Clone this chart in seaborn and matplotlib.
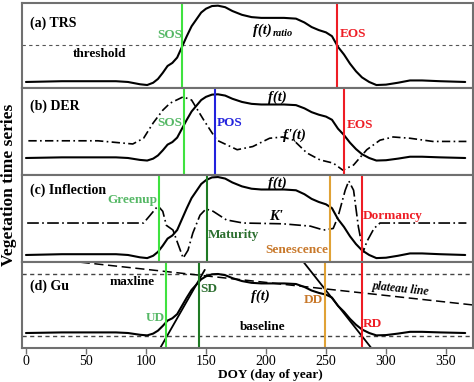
import matplotlib
matplotlib.use("Agg")
import matplotlib.pyplot as plt
import seaborn as sns

# normalised vegetation curve f(t), shared by all four panels
DOY = [0, 15, 30, 45, 60, 75, 85, 95, 101, 106, 110, 114, 118, 122, 126, 130,
       134, 138, 142, 146, 150, 155, 160, 166, 172, 180, 188, 196, 205, 215,
       225, 232, 238, 244, 250, 255, 260, 265, 270, 275, 280, 286, 292, 300,
       310, 320, 330, 345, 366]
F_T = [0.0, 0.005, 0.01, 0.01, 0.01, 0.01, 0.0, -0.03, -0.04, -0.01, 0.04,
       0.12, 0.21, 0.25, 0.32, 0.46, 0.6, 0.73, 0.82, 0.91, 0.96, 0.995, 1.0,
       0.98, 0.93, 0.88, 0.85, 0.84, 0.84, 0.84, 0.83, 0.78, 0.72, 0.68, 0.65,
       0.6, 0.46, 0.36, 0.24, 0.14, 0.06, 0.0, -0.04, -0.035, -0.01, 0.02,
       0.02, 0.01, 0.0]

# first derivative f'(t) for panel (b)
DER_DOY = [2, 60, 89, 98, 106, 114, 120, 131, 138, 148, 159, 176, 189, 203,
           214, 223, 234, 245, 256, 264, 273, 284, 295, 306, 320, 339, 367]
DER_VAL = [0.27, 0.27, 0.22, 0.31, 0.55, 0.75, 0.86, 0.96, 0.91, 0.6, 0.28,
           0.13, 0.18, 0.31, 0.33, 0.28, 0.08, -0.03, -0.08, -0.19, -0.11,
           0.13, 0.28, 0.33, 0.31, 0.26, 0.26]

# rate of change of curvature K' for panel (c)
K_DOY = [1, 98, 103.5, 110, 114, 117, 122.5, 126, 131, 135, 139, 145, 150,
         156, 167, 181, 214, 237, 248, 256, 260, 266, 269, 273, 277, 281, 284,
         290, 295, 367]
K_VAL = [0.41, 0.41, 0.51, 0.63, 0.56, 0.38, 0.32, 0.17, -0.04, 0.06, 0.28,
         0.51, 0.59, 0.56, 0.45, 0.41, 0.4, 0.37, 0.32, 0.34, 0.49, 0.83, 0.95,
         0.83, 0.36, 0.04, 0.17, 0.34, 0.41, 0.41]

# Gu method helper lines for panel (d)
PLATEAU_DOY = [0, 372.5]
PLATEAU_VAL = [1.30, 0.475]
GREENUP_DOY = [111.7, 149]
GREENUP_VAL = [-0.26, 1.07]
SENES_DOY = [231, 288]
SENES_VAL = [1.21, -0.26]

THRESHOLD = 0.485
MAXLINE = 1.0
BASELINE = -0.046

# phenology dates (DOY)
TRS_DATES = {"SOS": 130, "EOS": 259}
DER_DATES = {"SOS": 131.5, "POS": 157.5, "EOS": 265}
INF_DATES = {"Greenup": 111, "Maturity": 150.5, "Senescence": 253,
             "Dormancy": 280}
GU_DATES = {"UD": 117, "SD": 144, "DD": 249, "RD": 280}

XTICKS = [0, 50, 100, 150, 200, 250, 300, 350]
PANEL_YLIM = [(-0.079, 1.035), (-0.267, 1.099), (-0.09, 1.026), (-0.254, 1.203)]

LGREEN = "#3fe23f"
DGREEN = "#1f7a24"
ORANGE = "#e0a236"
RED = "#ee1d25"
BLUE = "#2222dd"
T_LGREEN = "#56b866"
T_DGREEN = "#2b6e2f"
T_ORANGE = "#c8782a"

sns.set_theme(style="white")
plt.rcParams["font.family"] = ["Liberation Serif", "DejaVu Serif"]

W, H = 474, 382
fig = plt.figure(figsize=(W / 100, H / 100), dpi=100)

tops = [3, 88, 175, 262]
bottom_px = 348
axes = []
for i, top in enumerate(tops):
    bot = tops[i + 1] if i < 3 else bottom_px
    ax = fig.add_axes([22 / W, 1 - bot / H, 451 / W, (bot - top) / H])
    ax.set_xlim(-3.3, 372.5)
    ax.set_ylim(*PANEL_YLIM[i])
    ax.set_yticks([])
    for sp in ax.spines.values():
        sp.set_color("#707070")
        sp.set_linewidth(1.5)
    if i < 3:
        ax.set_xticks([])
    axes.append(ax)


def put(xpx, ypx, s, color="black", size=9.5, ha="center", style="normal",
        weight="bold", **kw):
    fig.text(xpx / W, 1 - ypx / H, s, color=color, fontsize=size, ha=ha,
             va="center", fontstyle=style, fontweight=weight, **kw)


def curve(ax, x, y, **kw):
    sns.lineplot(x=x, y=y, ax=ax, estimator=None, sort=False, **kw)


dashdot = (0, (5, 2, 1, 2))

# (a) TRS
ax = axes[0]
ax.axhline(THRESHOLD, color="#555555", lw=0.8, ls=(0, (3, 3)))
curve(ax, DOY, F_T, color="black", lw=1.5)
ax.axvline(TRS_DATES["SOS"], color=LGREEN, lw=1.5)
ax.axvline(TRS_DATES["EOS"], color=RED, lw=1.5)
put(30, 23, "(a) TRS", ha="left", size=10)
put(182, 35, "SOS", color=T_LGREEN, ha="right")
put(73, 54, "threshold", ha="left")
put(262, 30, "f(t)", style="italic", size=10.5)
put(273, 34, "ratio", style="italic", size=7.5, ha="left")
put(340, 34, "EOS", color=RED, ha="left")

# (b) DER
ax = axes[1]
curve(ax, DER_DOY, DER_VAL, color="black", lw=1.2, linestyle=dashdot)
curve(ax, DOY, F_T, color="black", lw=1.5)
ax.axvline(DER_DATES["SOS"], color=LGREEN, lw=1.5)
ax.axvline(DER_DATES["POS"], color=BLUE, lw=1.5)
ax.axvline(DER_DATES["EOS"], color=RED, lw=1.5)
put(30, 106, "(b) DER", ha="left", size=10)
put(277, 97, "f(t)", style="italic", size=10.5)
put(182, 123, "SOS", color=T_LGREEN, ha="right")
put(217, 123, "POS", color=BLUE, ha="left")
put(294, 135, "f'(t)", style="italic", size=10.5)
put(347, 125, "EOS", color=RED, ha="left")

# (c) Inflection
ax = axes[2]
curve(ax, K_DOY, K_VAL, color="black", lw=1.2, linestyle=(0, (7, 2, 1, 2)))
curve(ax, DOY, F_T, color="black", lw=1.5)
ax.axvline(INF_DATES["Greenup"], color=LGREEN, lw=1.5)
ax.axvline(INF_DATES["Maturity"], color=DGREEN, lw=1.5)
ax.axvline(INF_DATES["Senescence"], color=ORANGE, lw=1.5)
ax.axvline(INF_DATES["Dormancy"], color=RED, lw=1.5)
put(30, 190, "(c) Inflection", ha="left", size=10)
put(277, 183, "f(t)", style="italic", size=10.5)
put(157, 200, "Greenup", color=T_LGREEN, ha="right")
put(276, 217, "K'", style="italic", size=10.5)
put(208, 235, "Maturity", color=T_DGREEN, ha="left")
put(328, 250, "Senescence", color=T_ORANGE, ha="right")
put(363, 216, "Dormancy", color=RED, ha="left")

# (d) Gu
ax = axes[3]
ax.axhline(MAXLINE, color="#444444", lw=1.0, ls=(0, (3, 2.5)))
ax.axhline(BASELINE, color="#444444", lw=1.0, ls=(0, (3, 2.5)))
curve(ax, PLATEAU_DOY, PLATEAU_VAL, color="black", lw=1.1, linestyle=(0, (6, 3)))
curve(ax, GREENUP_DOY, GREENUP_VAL, color="black", lw=1.3)
curve(ax, SENES_DOY, SENES_VAL, color="black", lw=1.3)
curve(ax, DOY, F_T, color="black", lw=1.5)
ax.axvline(GU_DATES["UD"], color=LGREEN, lw=1.5)
ax.axvline(GU_DATES["SD"], color=DGREEN, lw=1.5)
ax.axvline(GU_DATES["DD"], color=ORANGE, lw=1.5)
ax.axvline(GU_DATES["RD"], color=RED, lw=1.5)
put(30, 286, "(d) Gu", ha="left", size=10)
put(110, 282, "maxline", ha="left")
put(165, 318, "UD", color=T_LGREEN, ha="right")
put(200, 289, "SD", color=T_DGREEN, ha="left")
put(260, 296, "f(t)", style="italic", size=10.5)
put(323, 300, "DD", color=T_ORANGE, ha="right")
put(240, 327, "baseline", ha="left")
put(363, 324, "RD", color=RED, ha="left")
put(401, 289, "plateau line", style="italic", size=8.5, rotation=-6)

ax.set_xticks(XTICKS)
ax.set_xticklabels([str(t) for t in XTICKS], fontsize=10)
ax.tick_params(axis="x", bottom=True, direction="out", length=4, width=1,
               color="#707070", pad=1, labelcolor="black")
ax.set_xlabel("")

put(270, 375, "DOY (day of year)", size=9.5)
put(9, 185, "Vegetation time series", size=12.5, rotation=90)

fig.savefig("out.png", dpi=100)
